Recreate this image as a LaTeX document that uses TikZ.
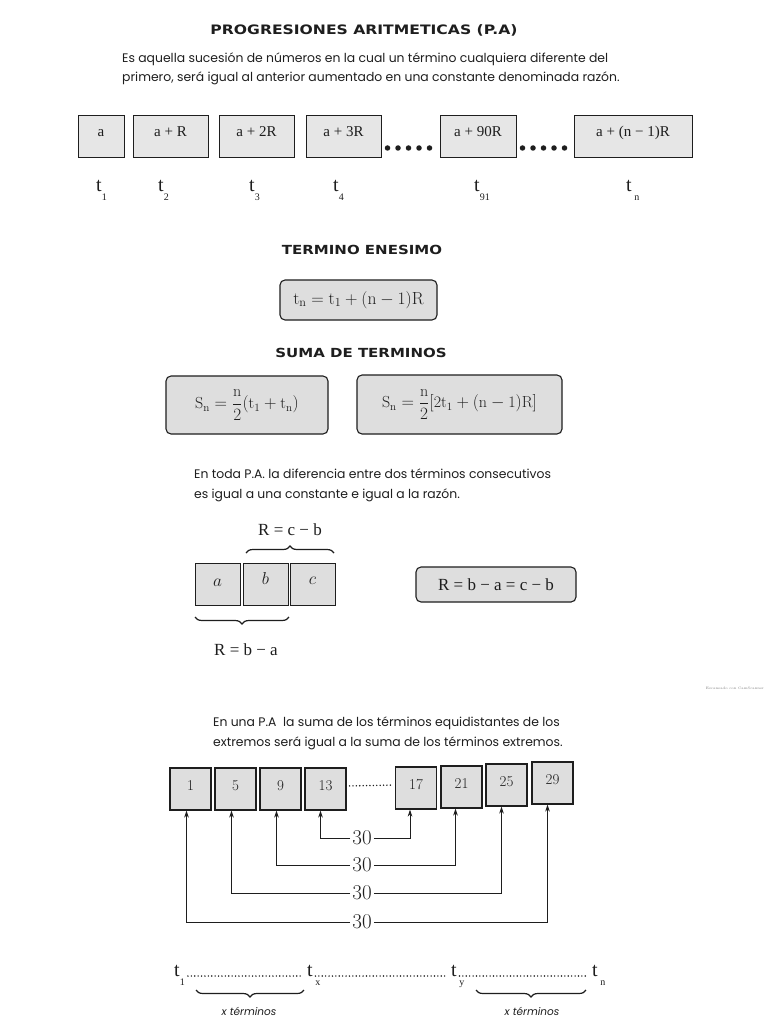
\documentclass[tikz,border=0pt]{standalone}
\usepackage{fontspec}
\usetikzlibrary{arrows.meta,decorations.pathreplacing,calc}
\newfontfamily\bodyfont{Poppins}
\newfontfamily\titlefont{DejaVu Sans}[FakeStretch=1.2]
\newfontfamily\timesfont{Liberation Serif}
\definecolor{boxgray}{HTML}{DEDEDE}
\definecolor{rowgray}{HTML}{E6E6E6}
\definecolor{ink}{HTML}{1E1E1E}
\tikzset{
  heading/.style={font=\titlefont\bfseries\fontsize{13}{13}\selectfont, text=ink, inner sep=0pt},
  bodytxt/.style={font=\bodyfont\fontsize{12.4}{14}\selectfont, text=ink, anchor=base west, inner sep=0pt},
  rowbox/.style={draw=ink, line width=1pt, fill=rowgray, minimum height=42pt, inner sep=0pt},
  rowtxt/.style={font=\timesfont\fontsize{15}{15}\selectfont, text=ink, anchor=base, inner sep=0pt},
  tlab/.style={font=\timesfont\fontsize{20}{20}\selectfont, text=ink, anchor=base west, inner sep=0pt},
  fbox/.style={draw=ink, line width=1.1pt, fill=boxgray, rounded corners=5pt, inner sep=0pt},
  ftxt/.style={font=\fontsize{16}{16}\selectfont, text=ink, inner sep=0pt},
  sqbox/.style={draw=ink, line width=1pt, fill=boxgray, minimum width=45pt, minimum height=42pt, inner sep=0pt},
  numbox/.style={draw=ink, line width=1.1pt, fill=boxgray, minimum width=41pt, minimum height=42pt, inner sep=0pt},
  numtxt/.style={font=\fontsize{15}{15}\selectfont, text=ink, inner sep=0pt},
  thirty/.style={font=\fontsize{21}{21}\selectfont, text=ink, inner sep=2pt},
  arr/.style={draw=ink, line width=1pt, -{Stealth[length=7pt,width=4.5pt]}},
  bigdots/.style={draw=ink, line width=5.5pt, line cap=round, dash pattern=on 0pt off 10.5pt},
  smalldots/.style={draw=ink, line width=1.6pt, line cap=round, dash pattern=on 0pt off 3.4pt},
  brace/.style={draw=ink, line width=1.2pt, decorate, decoration={brace, amplitude=7pt}},
  eqtxt/.style={font=\timesfont\fontsize{17}{17}\selectfont, text=ink, inner sep=0pt},
  xterm/.style={font=\bodyfont\itshape\fontsize{10.5}{10.5}\selectfont, text=ink, inner sep=0pt},
}
\begin{document}
\begin{tikzpicture}[x=1pt,y=-1pt]
\useasboundingbox[fill=white] (0,0) rectangle (768,1024);

% Title and paragraph
\node[heading] (title) at (364,30) {PROGRESIONES ARITMETICAS (P.A)};
\node[bodytxt] (p1a) at (122,63) {Es aquella sucesión de números en la cual un término cualquiera diferente del};
\node[bodytxt] (p1b) at (122,82) {primero, será igual al anterior aumentado en una constante denominada razón.};

% Row 1
\node[rowbox, minimum width=46pt] (b1) at (101,137) {};
\node[rowbox, minimum width=75pt] (b2) at (170.5,137) {};
\node[rowbox, minimum width=75pt] (b3) at (256.5,137) {};
\node[rowbox, minimum width=75pt] (b4) at (343.5,137) {};
\node[rowbox, minimum width=76pt] (b5) at (478,137) {};
\node[rowbox, minimum width=118pt] (b6) at (633,137) {};
\node[rowtxt] (b1t) at (101,137) {a};
\node[rowtxt] (b2t) at (170.5,137) {a + R};
\node[rowtxt] (b3t) at (256.5,137) {a + 2R};
\node[rowtxt] (b4t) at (343.5,137) {a + 3R};
\node[rowtxt] (b5t) at (478,137) {a + 90R};
\node[rowtxt] (b6t) at (633,137) {a + (n − 1)R};
\draw[bigdots, shorten <=6pt] ([yshift=-11pt]b4.east) -- ([yshift=-11pt]b5.west);
\draw[bigdots, shorten <=6pt] ([yshift=-11pt]b5.east) -- ([yshift=-11pt]b6.west);

\node[tlab] (t1) at (96,192) {t\raisebox{-9pt}{\fontsize{10}{10}\selectfont 1}};
\node[tlab] (t2) at (158,192) {t\raisebox{-9pt}{\fontsize{10}{10}\selectfont 2}};
\node[tlab] (t3) at (249,192) {t\raisebox{-9pt}{\fontsize{10}{10}\selectfont 3}};
\node[tlab] (t4) at (333,192) {t\raisebox{-9pt}{\fontsize{10}{10}\selectfont 4}};
\node[tlab] (t91) at (474,192) {t\raisebox{-9pt}{\fontsize{10}{10}\selectfont 91}};
\node[tlab] (tn) at (626,192) {t\raisebox{-9pt}{\fontsize{10}{10}\selectfont\ n}};

% Termino enesimo
\node[heading, font=\titlefont\bfseries\fontsize{12.5}{12.5}\selectfont] (h2) at (362,250) {TERMINO ENESIMO};
\node[fbox, minimum width=157pt, minimum height=40pt] (fn) at (358.5,300) {};
\node[ftxt, font=\fontsize{17.5}{17.5}\selectfont] (fnt) at (fn.center) {$\mathrm{t_n = t_1 + (n-1)R}$};

% Suma de terminos
\node[heading, font=\titlefont\bfseries\fontsize{12.5}{12.5}\selectfont] (h3) at (361,353) {SUMA DE TERMINOS};
\node[fbox, minimum width=162pt, minimum height=58pt] (s1) at (247,405) {};
\node[ftxt] (s1t) at (s1.center) {$\displaystyle\mathrm{S_n} = \frac{\mathrm{n}}{2}(\mathrm{t_1 + t_n})$};
\node[fbox, minimum width=205pt, minimum height=59pt] (s2) at (459.5,404.5) {};
\node[ftxt] (s2t) at (s2.center) {$\displaystyle\mathrm{S_n} = \frac{\mathrm{n}}{2}[\mathrm{2t_1 + (n-1)R}]$};

% Paragraph 2
\node[bodytxt] (p2a) at (194,478) {En toda P.A. la diferencia entre dos términos consecutivos};
\node[bodytxt] (p2b) at (194,498) {es igual a una constante e igual a la razón.};

\node[eqtxt] (rcb) at (290,530) {R = c − b};
\draw[brace] (246,553) -- (334,553);
\node[sqbox] (ca) at (217.5,584) {};
\node[sqbox] (cb) at (265.5,584) {};
\node[sqbox] (cc) at (312.5,584) {};
\node[ftxt, anchor=base] (cat) at (217.5,586) {$a$};
\node[ftxt, anchor=base] (cbt) at (265.5,584) {$b$};
\node[ftxt, anchor=base] (cct) at (312.5,584) {$c$};
\draw[brace] (289,617) -- (195,617);
\node[eqtxt] (rba) at (246,650) {R = b − a};
\node[fbox, minimum width=160pt, minimum height=35pt] (rr) at (496,584.5) {};
\node[eqtxt] (rrt) at (rr.center) {R = b − a = c − b};

% watermark
\node[font=\fontsize{3.5}{4}\selectfont, text=gray, inner sep=0pt] (wm) at (735,688) {Escaneado con CamScanner};

% Paragraph 3
\node[bodytxt] (p3a) at (213,726) {En una P.A\ \ la suma de los términos equidistantes de los};
\node[bodytxt] (p3b) at (213,746) {extremos será igual a la suma de los términos extremos.};

% Number boxes
\foreach \nm/\xx/\yy in {1/190.5/789, 5/235.5/789, 9/280.5/789, 13/325.5/789, 17/416/788, 21/461.5/787, 25/506.5/785, 29/552.5/783}{
  \node[numbox] (n\nm) at (\xx,\yy) {};
  \node[numtxt] (n\nm t) at ([yshift=3pt]n\nm.center) {\nm};
}
\draw[smalldots, shorten <=3pt, shorten >=3pt] ([yshift=3pt]n13.east) -- ([yshift=3pt]n17.west);

\node[thirty] (l1) at (362,838) {30};
\node[thirty] (l2) at (362,865) {30};
\node[thirty] (l3) at (362,893) {30};
\node[thirty] (l4) at (362,922) {30};
\draw[arr] (l1.west) -| ([xshift=-5pt]n13.south);
\draw[arr] (l1.east) -| ([xshift=-6pt]n17.south);
\draw[arr] (l2.west) -| ([xshift=-4pt]n9.south);
\draw[arr] (l2.east) -| ([xshift=-6pt]n21.south);
\draw[arr] (l3.west) -| ([xshift=-4pt]n5.south);
\draw[arr] (l3.east) -| ([xshift=-5pt]n25.south);
\draw[arr] (l4.west) -| ([xshift=-4pt]n1.south);
\draw[arr] (l4.east) -| ([xshift=-5pt]n29.south);

% Bottom row
\node[tlab] (u1) at (174,976) {t\raisebox{-9pt}{\fontsize{10}{10}\selectfont 1}};
\node[tlab] (ux) at (307,976) {t\raisebox{-9pt}{\fontsize{10}{10}\selectfont\ x}};
\node[tlab] (uy) at (451,976) {t\raisebox{-9pt}{\fontsize{10}{10}\selectfont\ y}};
\node[tlab] (un) at (592,976) {t\raisebox{-9pt}{\fontsize{10}{10}\selectfont\ n}};
\draw[smalldots, shorten <=3pt, shorten >=4pt] (u1.base east) -- (ux.base west);
\draw[smalldots, shorten <=2pt, shorten >=4pt] ([xshift=-7pt]ux.base east) -- (uy.base west);
\draw[smalldots, shorten <=2pt, shorten >=4pt] ([xshift=-7pt]uy.base east) -- (un.base west);
\draw[brace] (304,990) -- (196,990);
\draw[brace] (586,990) -- (476,990);
\node[xterm] (xl) at (249,1011) {x términos};
\node[xterm] (xr) at (532,1011) {x términos};
\end{tikzpicture}
\end{document}
